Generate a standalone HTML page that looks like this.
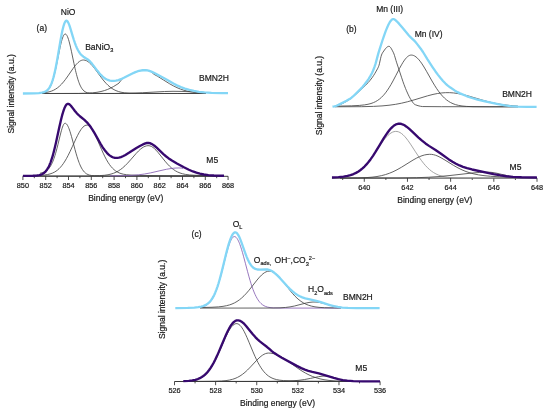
<!DOCTYPE html>
<html><head><meta charset="utf-8"><style>
html,body{margin:0;padding:0;background:#fff;width:550px;height:414px;overflow:hidden}
svg{display:block;filter:blur(0.3px)}
.l{font-family:"Liberation Sans",sans-serif;font-size:8.5px;fill:#1a1a1a;stroke:#1a1a1a;stroke-width:0.2px}
.t{font-family:"Liberation Sans",sans-serif;font-size:7.3px;fill:#1a1a1a;stroke:#1a1a1a;stroke-width:0.2px}
.s{font-size:5.6px}
</style></head><body>
<svg width="550" height="414" viewBox="0 0 550 414">
<rect width="550" height="414" fill="#fff"/>
<line x1="22.90" y1="176.30" x2="228.10" y2="176.30" stroke="#222" stroke-width="0.9"/>
<line x1="22.90" y1="176.30" x2="22.90" y2="180.00" stroke="#222" stroke-width="0.8"/>
<text x="22.90" y="187.60" class="t" text-anchor="middle">850</text>
<line x1="34.30" y1="176.30" x2="34.30" y2="178.20" stroke="#222" stroke-width="0.8"/>
<line x1="45.70" y1="176.30" x2="45.70" y2="180.00" stroke="#222" stroke-width="0.8"/>
<text x="45.70" y="187.60" class="t" text-anchor="middle">852</text>
<line x1="57.10" y1="176.30" x2="57.10" y2="178.20" stroke="#222" stroke-width="0.8"/>
<line x1="68.50" y1="176.30" x2="68.50" y2="180.00" stroke="#222" stroke-width="0.8"/>
<text x="68.50" y="187.60" class="t" text-anchor="middle">854</text>
<line x1="79.90" y1="176.30" x2="79.90" y2="178.20" stroke="#222" stroke-width="0.8"/>
<line x1="91.30" y1="176.30" x2="91.30" y2="180.00" stroke="#222" stroke-width="0.8"/>
<text x="91.30" y="187.60" class="t" text-anchor="middle">856</text>
<line x1="102.70" y1="176.30" x2="102.70" y2="178.20" stroke="#222" stroke-width="0.8"/>
<line x1="114.10" y1="176.30" x2="114.10" y2="180.00" stroke="#222" stroke-width="0.8"/>
<text x="114.10" y="187.60" class="t" text-anchor="middle">858</text>
<line x1="125.50" y1="176.30" x2="125.50" y2="178.20" stroke="#222" stroke-width="0.8"/>
<line x1="136.90" y1="176.30" x2="136.90" y2="180.00" stroke="#222" stroke-width="0.8"/>
<text x="136.90" y="187.60" class="t" text-anchor="middle">860</text>
<line x1="148.30" y1="176.30" x2="148.30" y2="178.20" stroke="#222" stroke-width="0.8"/>
<line x1="159.70" y1="176.30" x2="159.70" y2="180.00" stroke="#222" stroke-width="0.8"/>
<text x="159.70" y="187.60" class="t" text-anchor="middle">862</text>
<line x1="171.10" y1="176.30" x2="171.10" y2="178.20" stroke="#222" stroke-width="0.8"/>
<line x1="182.50" y1="176.30" x2="182.50" y2="180.00" stroke="#222" stroke-width="0.8"/>
<text x="182.50" y="187.60" class="t" text-anchor="middle">864</text>
<line x1="193.90" y1="176.30" x2="193.90" y2="178.20" stroke="#222" stroke-width="0.8"/>
<line x1="205.30" y1="176.30" x2="205.30" y2="180.00" stroke="#222" stroke-width="0.8"/>
<text x="205.30" y="187.60" class="t" text-anchor="middle">866</text>
<line x1="216.70" y1="176.30" x2="216.70" y2="178.20" stroke="#222" stroke-width="0.8"/>
<line x1="228.10" y1="176.30" x2="228.10" y2="180.00" stroke="#222" stroke-width="0.8"/>
<text x="228.10" y="187.60" class="t" text-anchor="middle">868</text>
<line x1="331.90" y1="178.10" x2="536.90" y2="178.10" stroke="#222" stroke-width="0.9"/>
<line x1="342.69" y1="178.10" x2="342.69" y2="180.00" stroke="#222" stroke-width="0.8"/>
<line x1="364.28" y1="178.10" x2="364.28" y2="181.80" stroke="#222" stroke-width="0.8"/>
<text x="364.28" y="189.50" class="t" text-anchor="middle">640</text>
<line x1="385.88" y1="178.10" x2="385.88" y2="180.00" stroke="#222" stroke-width="0.8"/>
<line x1="407.46" y1="178.10" x2="407.46" y2="181.80" stroke="#222" stroke-width="0.8"/>
<text x="407.46" y="189.50" class="t" text-anchor="middle">642</text>
<line x1="429.05" y1="178.10" x2="429.05" y2="180.00" stroke="#222" stroke-width="0.8"/>
<line x1="450.64" y1="178.10" x2="450.64" y2="181.80" stroke="#222" stroke-width="0.8"/>
<text x="450.64" y="189.50" class="t" text-anchor="middle">644</text>
<line x1="472.24" y1="178.10" x2="472.24" y2="180.00" stroke="#222" stroke-width="0.8"/>
<line x1="493.82" y1="178.10" x2="493.82" y2="181.80" stroke="#222" stroke-width="0.8"/>
<text x="493.82" y="189.50" class="t" text-anchor="middle">646</text>
<line x1="515.41" y1="178.10" x2="515.41" y2="180.00" stroke="#222" stroke-width="0.8"/>
<line x1="537.00" y1="178.10" x2="537.00" y2="181.80" stroke="#222" stroke-width="0.8"/>
<text x="537.00" y="189.50" class="t" text-anchor="middle">648</text>
<line x1="174.50" y1="381.50" x2="380.10" y2="381.50" stroke="#222" stroke-width="0.9"/>
<line x1="174.50" y1="381.50" x2="174.50" y2="385.20" stroke="#222" stroke-width="0.8"/>
<text x="174.50" y="392.70" class="t" text-anchor="middle">526</text>
<line x1="195.06" y1="381.50" x2="195.06" y2="383.40" stroke="#222" stroke-width="0.8"/>
<line x1="215.62" y1="381.50" x2="215.62" y2="385.20" stroke="#222" stroke-width="0.8"/>
<text x="215.62" y="392.70" class="t" text-anchor="middle">528</text>
<line x1="236.18" y1="381.50" x2="236.18" y2="383.40" stroke="#222" stroke-width="0.8"/>
<line x1="256.74" y1="381.50" x2="256.74" y2="385.20" stroke="#222" stroke-width="0.8"/>
<text x="256.74" y="392.70" class="t" text-anchor="middle">530</text>
<line x1="277.30" y1="381.50" x2="277.30" y2="383.40" stroke="#222" stroke-width="0.8"/>
<line x1="297.86" y1="381.50" x2="297.86" y2="385.20" stroke="#222" stroke-width="0.8"/>
<text x="297.86" y="392.70" class="t" text-anchor="middle">532</text>
<line x1="318.42" y1="381.50" x2="318.42" y2="383.40" stroke="#222" stroke-width="0.8"/>
<line x1="338.98" y1="381.50" x2="338.98" y2="385.20" stroke="#222" stroke-width="0.8"/>
<text x="338.98" y="392.70" class="t" text-anchor="middle">534</text>
<line x1="359.54" y1="381.50" x2="359.54" y2="383.40" stroke="#222" stroke-width="0.8"/>
<line x1="380.10" y1="381.50" x2="380.10" y2="385.20" stroke="#222" stroke-width="0.8"/>
<text x="380.10" y="392.70" class="t" text-anchor="middle">536</text>
<path d="M42.00 93.18 L43.50 92.89 L45.00 92.37 L46.00 91.84 L47.00 91.12 L48.00 90.14 L48.50 89.54 L49.00 88.86 L49.50 88.08 L50.00 87.20 L50.50 86.21 L51.00 85.11 L51.50 83.90 L52.00 82.56 L52.50 81.09 L53.00 79.49 L53.50 77.77 L54.00 75.92 L54.50 73.94 L55.00 71.85 L55.50 69.66 L56.00 67.36 L57.00 62.55 L59.00 52.55 L60.00 47.75 L60.50 45.49 L61.00 43.37 L61.50 41.40 L62.00 39.63 L62.50 38.06 L63.00 36.72 L63.50 35.63 L64.00 34.81 L64.50 34.26 L65.00 34.00 L65.50 34.02 L66.00 34.31 L66.50 34.86 L67.00 35.66 L67.50 36.71 L68.00 37.99 L68.50 39.48 L69.00 41.16 L69.50 43.02 L70.00 45.03 L70.50 47.16 L71.50 51.72 L74.00 63.67 L75.00 68.24 L75.50 70.40 L76.00 72.48 L76.50 74.45 L77.00 76.32 L77.50 78.07 L78.00 79.71 L78.50 81.23 L79.00 82.62 L79.50 83.91 L80.00 85.08 L80.50 86.13 L81.00 87.09 L81.50 87.95 L82.00 88.71 L83.00 89.98 L84.00 90.96 L85.00 91.70 L86.00 92.25 L87.50 92.80 L89.50 93.19 L92.50 93.42 L103.50 93.50 L206.00 93.50" fill="none" stroke="#3c3c3c" stroke-width="0.80" stroke-linejoin="round" stroke-linecap="butt"/>
<path d="M42.00 92.96 L46.00 92.50 L49.00 91.88 L51.50 91.10 L53.50 90.26 L55.50 89.17 L57.50 87.82 L59.50 86.16 L61.50 84.18 L63.50 81.91 L65.50 79.35 L68.00 75.86 L73.00 68.57 L75.00 65.90 L76.50 64.12 L78.00 62.60 L79.50 61.39 L80.50 60.78 L81.50 60.34 L82.50 60.08 L83.50 60.00 L85.00 60.19 L86.50 60.73 L88.00 61.60 L89.50 62.77 L91.00 64.21 L92.50 65.87 L94.50 68.35 L98.00 73.11 L101.50 77.87 L104.00 81.02 L106.00 83.28 L108.00 85.29 L110.00 87.02 L112.00 88.48 L114.00 89.68 L116.00 90.64 L118.50 91.56 L121.00 92.21 L124.50 92.80 L129.00 93.20 L136.00 93.41 L177.50 93.49 L206.00 93.49" fill="none" stroke="#3c3c3c" stroke-width="0.80" stroke-linejoin="round" stroke-linecap="butt"/>
<path d="M42.00 93.50 L78.50 93.43 L87.00 93.21 L92.50 92.84 L97.00 92.29 L101.00 91.51 L104.50 90.55 L107.50 89.47 L110.50 88.15 L113.50 86.56 L117.00 84.41 L119.00 83.07 L120.50 81.01 L122.00 79.27 L123.00 78.26 L128.00 75.71 L133.00 73.17 L136.00 71.89 L138.50 71.06 L141.00 70.49 L143.50 70.20 L145.50 70.18 L147.50 70.42 L149.50 70.93 L150.00 71.10 L152.50 73.05 L154.00 74.34 L157.50 76.26 L163.50 79.99 L169.50 83.72 L173.50 85.95 L177.00 87.66 L180.50 89.10 L184.00 90.27 L188.00 91.31 L192.50 92.14 L197.50 92.74 L204.00 93.17 L206.00 93.25" fill="none" stroke="#3c3c3c" stroke-width="0.80" stroke-linejoin="round" stroke-linecap="butt"/>
<path d="M42.00 93.50 L114.50 93.44 L130.00 93.20 L142.50 92.72 L164.50 91.51 L173.00 91.30 L182.00 91.41 L193.50 91.92 L206.00 92.61" fill="none" stroke="#3c3c3c" stroke-width="0.80" stroke-linejoin="round" stroke-linecap="butt"/>
<path d="M22.90 93.49 L33.90 93.34 L38.90 93.07 L41.90 92.68 L43.90 92.16 L45.40 91.52 L46.40 90.91 L47.40 90.10 L48.40 89.03 L48.90 88.39 L49.40 87.65 L49.90 86.81 L50.40 85.87 L50.90 84.82 L51.40 83.64 L51.90 82.33 L52.40 80.89 L52.90 79.30 L53.40 77.57 L53.90 75.68 L54.40 73.65 L54.90 71.47 L55.40 69.14 L55.90 66.68 L56.40 64.09 L56.90 61.39 L57.90 55.72 L59.90 43.90 L60.40 41.01 L60.90 38.20 L61.40 35.51 L61.90 32.96 L62.40 30.59 L62.90 28.43 L63.40 26.49 L63.90 24.81 L64.40 23.40 L64.90 22.27 L65.40 21.44 L65.90 20.92 L66.40 20.72 L66.90 20.84 L67.40 21.27 L67.90 21.97 L68.40 22.92 L68.90 24.09 L69.40 25.42 L69.90 26.89 L70.90 30.11 L72.90 36.83 L73.90 40.02 L74.90 42.97 L75.90 45.62 L76.90 47.97 L77.90 50.00 L78.90 51.73 L79.90 53.20 L80.90 54.43 L81.90 55.46 L83.40 56.72 L85.40 58.05 L87.40 59.24 L88.90 60.40 L90.40 61.88 L91.90 63.62 L94.40 66.88 L97.40 70.85 L99.40 73.29 L100.90 74.93 L102.40 76.39 L103.90 77.65 L105.40 78.69 L106.90 79.54 L108.40 80.18 L109.90 80.63 L111.90 80.95 L113.90 80.97 L115.90 80.72 L118.40 80.10 L120.90 79.19 L124.40 77.58 L132.40 73.45 L135.40 72.12 L137.90 71.23 L140.40 70.60 L142.90 70.24 L145.40 70.18 L147.40 70.40 L149.40 70.90 L151.90 71.83 L154.90 73.26 L166.90 79.75 L173.40 83.57 L176.90 85.37 L180.90 87.11 L184.90 88.56 L189.40 89.89 L193.90 90.93 L198.90 91.78 L204.40 92.40 L211.40 92.85 L221.90 93.11 L228.00 93.17" fill="none" stroke="#83d6f6" stroke-width="2.30" stroke-linejoin="round" stroke-linecap="butt"/>
<path d="M40.00 173.27 L42.50 172.61 L44.50 171.83 L46.00 170.99 L47.00 170.26 L48.00 169.37 L49.00 168.26 L50.00 166.92 L51.00 165.29 L51.50 164.36 L52.00 163.35 L52.50 162.25 L53.00 161.05 L53.50 159.77 L54.00 158.39 L54.50 156.92 L55.00 155.36 L55.50 153.71 L56.00 151.97 L57.00 148.26 L58.00 144.29 L60.00 136.04 L61.00 132.10 L61.50 130.28 L62.00 128.59 L62.50 127.08 L63.00 125.77 L63.50 124.71 L64.00 123.92 L64.50 123.42 L65.00 123.23 L65.50 123.30 L66.00 123.55 L66.50 123.99 L67.00 124.60 L67.50 125.39 L68.00 126.33 L68.50 127.43 L69.00 128.67 L69.50 130.04 L70.00 131.52 L70.50 133.11 L71.50 136.53 L73.00 142.06 L75.00 149.57 L76.00 153.16 L77.00 156.53 L78.00 159.63 L79.00 162.43 L79.50 163.70 L80.00 164.90 L80.50 166.01 L81.50 167.99 L82.50 169.66 L83.50 171.05 L84.50 172.18 L85.50 173.09 L86.50 173.81 L88.00 174.59 L89.50 175.10 L91.50 175.51 L94.50 175.78 L101.50 175.90 L224.00 175.90" fill="none" stroke="#3c3c3c" stroke-width="0.80" stroke-linejoin="round" stroke-linecap="butt"/>
<path d="M40.00 175.36 L44.50 175.00 L47.50 174.55 L50.00 173.95 L52.50 173.07 L54.50 172.10 L56.00 171.18 L57.50 170.07 L59.00 168.74 L60.50 167.19 L62.00 165.39 L63.50 163.34 L65.00 161.03 L66.50 158.46 L68.00 155.67 L70.00 151.64 L72.50 146.28 L76.00 138.67 L77.50 135.60 L79.00 132.77 L80.00 131.07 L81.00 129.53 L82.00 128.19 L83.00 127.07 L84.00 126.19 L85.00 125.56 L86.00 125.20 L87.00 125.11 L87.50 125.17 L88.50 125.55 L89.50 126.23 L90.50 127.22 L91.50 128.48 L92.50 129.99 L93.50 131.71 L94.50 133.63 L96.00 136.77 L98.00 141.30 L101.50 149.43 L103.50 153.85 L105.00 156.92 L106.50 159.75 L108.00 162.30 L109.50 164.56 L111.00 166.53 L112.50 168.22 L114.00 169.65 L115.50 170.83 L117.00 171.81 L119.00 172.83 L121.00 173.58 L123.50 174.23 L126.50 174.73 L131.00 175.12 L139.50 175.42 L165.00 175.68 L224.00 175.83" fill="none" stroke="#3c3c3c" stroke-width="0.80" stroke-linejoin="round" stroke-linecap="butt"/>
<path d="M40.00 175.90 L92.00 175.85 L99.50 175.65 L104.50 175.27 L108.00 174.76 L111.00 174.07 L113.50 173.27 L116.00 172.21 L118.50 170.85 L120.50 169.53 L122.50 168.00 L125.00 165.78 L127.50 163.26 L130.50 159.93 L136.00 153.61 L138.50 150.98 L140.50 149.15 L142.00 147.99 L143.50 147.03 L145.00 146.32 L146.50 145.86 L148.00 145.67 L149.00 145.71 L150.00 145.91 L151.50 146.51 L153.00 147.44 L154.50 148.67 L156.00 150.15 L158.00 152.40 L161.00 156.13 L165.00 161.16 L167.50 164.06 L169.50 166.13 L171.50 167.96 L173.50 169.54 L175.50 170.86 L177.50 171.94 L180.00 172.99 L182.50 173.76 L185.50 174.41 L189.50 174.93 L195.00 175.29 L206.00 175.54 L224.00 175.69" fill="none" stroke="#3c3c3c" stroke-width="0.80" stroke-linejoin="round" stroke-linecap="butt"/>
<path d="M110.00 175.88 L124.00 175.70 L132.00 175.35 L138.50 174.80 L144.50 174.00 L150.50 172.90 L160.00 170.71 L166.50 169.27 L171.00 168.50 L175.00 168.08 L179.00 167.95 L181.50 168.14 L183.00 168.38" fill="none" stroke="#7d56ad" stroke-width="0.80" stroke-linejoin="round" stroke-linecap="butt"/>
<path d="M22.90 175.85 L32.90 175.73 L36.90 175.47 L39.40 175.06 L40.90 174.63 L42.40 173.99 L43.90 173.05 L44.90 172.20 L45.90 171.14 L46.90 169.83 L47.90 168.24 L48.40 167.32 L48.90 166.33 L49.40 165.24 L49.90 164.07 L50.40 162.81 L50.90 161.45 L51.40 159.99 L51.90 158.44 L52.40 156.80 L52.90 155.07 L53.40 153.24 L53.90 151.33 L54.90 147.27 L55.90 142.94 L57.40 136.11 L59.40 126.85 L60.40 122.41 L60.90 120.28 L61.40 118.23 L61.90 116.28 L62.40 114.43 L62.90 112.71 L63.40 111.11 L63.90 109.65 L64.40 108.33 L64.90 107.16 L65.40 106.15 L65.90 105.32 L66.40 104.68 L66.90 104.23 L67.40 103.96 L67.90 103.85 L68.40 103.89 L68.90 104.07 L69.40 104.36 L69.90 104.76 L70.90 105.78 L72.40 107.66 L74.90 110.99 L76.40 112.82 L77.90 114.43 L79.90 116.25 L84.40 119.91 L86.40 121.78 L87.90 123.39 L89.40 125.22 L90.90 127.28 L92.40 129.56 L94.40 132.88 L100.40 143.49 L102.40 146.78 L103.90 149.04 L105.40 151.08 L106.90 152.86 L108.40 154.38 L109.90 155.62 L111.40 156.58 L112.90 157.27 L114.40 157.71 L115.90 157.90 L117.40 157.88 L118.90 157.65 L120.90 157.09 L122.90 156.28 L125.40 154.99 L128.90 152.86 L136.40 147.99 L139.90 145.94 L142.90 144.43 L145.40 143.39 L146.90 142.99 L148.40 142.93 L149.90 143.21 L151.40 143.80 L152.90 144.66 L154.40 145.74 L156.40 147.43 L163.40 154.10 L165.90 156.26 L168.40 158.17 L171.90 160.50 L176.90 163.47 L183.90 167.28 L188.90 169.76 L192.90 171.47 L196.40 172.71 L199.90 173.69 L203.90 174.51 L208.40 175.11 L213.90 175.52 L222.40 175.76 L224.00 175.78" fill="none" stroke="#37096f" stroke-width="2.35" stroke-linejoin="round" stroke-linecap="butt"/>
<path d="M335.00 106.44 L336.50 106.20 L338.00 105.69 L343.50 103.03 L347.00 101.06 L350.50 98.80 L352.50 97.28 L356.00 94.23 L359.50 91.00 L365.50 85.24 L368.00 82.75 L370.00 80.44 L372.00 77.83 L373.50 75.66 L375.00 73.23 L377.50 68.80 L378.00 67.80 L378.50 66.67 L379.00 65.31 L379.50 63.40 L380.50 58.77 L381.00 56.64 L381.50 55.00 L382.00 53.82 L382.50 52.87 L384.50 49.97 L385.50 48.67 L386.50 47.57 L387.00 47.12 L387.50 46.76 L388.00 46.50 L388.50 46.34 L389.00 46.31 L389.50 46.47 L390.00 46.85 L390.50 47.42 L391.00 48.13 L391.50 48.95 L392.50 50.83 L393.50 52.81 L394.00 54.05 L394.50 55.52 L395.00 57.14 L396.00 60.54 L396.50 62.18 L401.50 77.25 L403.00 81.74 L404.00 84.51 L405.50 88.40 L406.50 90.81 L408.00 94.15 L409.00 96.24 L410.00 98.14 L411.00 99.76 L412.50 102.05 L413.50 103.37 L414.00 103.90 L414.50 104.32 L415.50 104.81 L418.00 105.69 L420.50 106.29 L422.50 106.55 L441.50 106.69 L518.00 106.80" fill="none" stroke="#3c3c3c" stroke-width="0.80" stroke-linejoin="round" stroke-linecap="butt"/>
<path d="M335.00 106.19 L351.50 105.82 L359.50 105.41 L364.50 104.89 L368.00 104.28 L371.00 103.50 L373.50 102.59 L375.50 101.65 L377.50 100.49 L379.50 99.05 L381.50 97.32 L383.00 95.81 L384.50 94.11 L386.00 92.21 L387.50 90.12 L389.00 87.84 L391.00 84.52 L393.00 80.94 L396.00 75.23 L399.50 68.47 L401.50 64.83 L403.00 62.32 L404.50 60.08 L405.50 58.77 L406.50 57.63 L407.50 56.68 L408.50 55.94 L409.50 55.42 L410.50 55.13 L411.50 55.07 L412.50 55.19 L413.50 55.48 L414.50 55.94 L416.00 56.91 L417.50 58.23 L419.00 59.85 L420.50 61.74 L422.00 63.87 L424.00 67.01 L426.50 71.27 L432.00 80.99 L434.50 85.19 L436.50 88.33 L438.50 91.21 L440.50 93.81 L442.50 96.11 L444.50 98.12 L446.50 99.85 L448.50 101.30 L450.50 102.50 L453.00 103.70 L455.50 104.61 L458.50 105.39 L462.00 105.99 L466.50 106.42 L473.00 106.69 L489.50 106.80 L518.00 106.80" fill="none" stroke="#3c3c3c" stroke-width="0.80" stroke-linejoin="round" stroke-linecap="butt"/>
<path d="M335.00 106.79 L361.50 106.68 L373.50 106.38 L382.00 105.91 L389.00 105.24 L395.50 104.33 L401.50 103.19 L407.50 101.76 L415.00 99.64 L427.50 95.85 L433.00 94.42 L437.50 93.51 L441.50 92.95 L445.50 92.66 L449.50 92.65 L453.50 92.93 L458.00 93.56 L463.00 94.58 L469.00 96.15 L485.00 100.87 L491.50 102.53 L497.50 103.79 L503.50 104.77 L510.00 105.54 L517.50 106.12 L518.00 106.15" fill="none" stroke="#3c3c3c" stroke-width="0.80" stroke-linejoin="round" stroke-linecap="butt"/>
<path d="M332.50 106.72 L334.50 106.38 L336.50 105.76 L338.50 104.87 L346.50 100.84 L349.50 99.09 L351.50 97.71 L353.00 96.45 L360.50 89.14 L362.50 86.98 L364.50 84.55 L367.00 81.24 L368.50 79.11 L370.00 76.72 L371.00 74.91 L372.00 72.92 L373.00 70.73 L374.00 68.29 L374.50 66.95 L375.00 65.49 L375.50 63.89 L376.00 62.15 L377.00 58.39 L378.00 54.63 L378.50 52.87 L379.50 49.62 L382.50 40.25 L384.00 35.80 L385.50 31.66 L386.50 29.09 L387.50 26.70 L388.50 24.55 L389.50 22.71 L390.50 21.18 L391.00 20.53 L391.50 19.99 L392.00 19.55 L392.50 19.25 L393.00 19.10 L393.50 19.09 L394.00 19.21 L394.50 19.44 L395.50 20.15 L397.00 21.53 L399.00 23.66 L402.50 27.77 L408.50 35.07 L410.00 36.71 L412.00 38.59 L414.00 40.39 L415.50 41.98 L417.00 43.85 L421.50 49.79 L423.00 52.01 L427.50 59.36 L432.50 67.03 L435.50 71.45 L438.00 74.87 L440.50 78.05 L443.00 80.95 L445.50 83.58 L447.50 85.40 L450.00 87.32 L455.00 90.66 L457.50 92.14 L460.00 93.37 L467.00 96.30 L472.00 98.02 L477.50 99.61 L485.00 101.40 L498.00 104.23 L505.00 105.39 L510.50 106.04 L517.50 106.60 L527.00 106.83 L536.60 106.90" fill="none" stroke="#83d6f6" stroke-width="2.30" stroke-linejoin="round" stroke-linecap="butt"/>
<path d="M340.00 177.51 L344.00 177.02 L347.50 176.34 L350.50 175.49 L353.00 174.54 L355.50 173.34 L358.00 171.84 L360.00 170.41 L362.00 168.76 L364.00 166.87 L366.00 164.75 L368.00 162.41 L370.50 159.20 L373.50 155.00 L380.50 144.65 L383.00 141.16 L385.00 138.61 L386.50 136.89 L388.00 135.36 L389.50 134.05 L391.00 132.98 L392.50 132.17 L394.00 131.65 L395.50 131.41 L397.00 131.47 L398.50 131.84 L400.00 132.52 L401.50 133.50 L403.00 134.75 L404.50 136.25 L406.00 137.97 L408.00 140.56 L410.50 144.14 L415.50 151.84 L419.00 157.12 L421.50 160.64 L423.50 163.22 L425.50 165.58 L427.50 167.68 L429.50 169.54 L431.50 171.15 L433.50 172.53 L436.00 173.94 L438.50 175.06 L441.00 175.91 L444.00 176.66 L447.50 177.25 L452.00 177.69 L458.50 177.97 L473.50 178.09 L520.00 178.10" fill="none" stroke="#8e8e8e" stroke-width="0.80" stroke-linejoin="round" stroke-linecap="butt"/>
<path d="M340.00 178.09 L357.50 177.95 L366.00 177.64 L372.00 177.17 L377.00 176.52 L381.50 175.64 L385.50 174.58 L389.50 173.21 L393.00 171.75 L397.00 169.78 L401.50 167.23 L413.00 160.09 L416.50 158.14 L419.50 156.70 L422.00 155.72 L424.50 154.98 L427.00 154.50 L429.50 154.30 L431.50 154.37 L433.50 154.68 L435.50 155.23 L438.00 156.21 L441.00 157.72 L445.00 160.08 L453.50 165.38 L458.00 167.91 L462.00 169.86 L466.00 171.52 L470.00 172.86 L474.00 173.94 L478.50 174.85 L484.00 175.65 L490.50 176.27 L499.50 176.77 L514.50 177.20 L520.00 177.30" fill="none" stroke="#3c3c3c" stroke-width="0.80" stroke-linejoin="round" stroke-linecap="butt"/>
<path d="M340.00 178.06 L399.00 177.95 L416.50 177.69 L428.50 177.24 L439.00 176.55 L450.00 175.51 L471.50 173.08 L479.50 172.44 L486.00 172.20 L490.00 172.24 L493.00 172.55 L497.00 173.29 L507.50 175.75 L512.50 176.66 L517.50 177.28 L520.00 177.49" fill="none" stroke="#3c3c3c" stroke-width="0.80" stroke-linejoin="round" stroke-linecap="butt"/>
<path d="M332.00 177.52 L338.50 177.15 L343.50 176.60 L347.50 175.88 L350.50 175.09 L353.50 174.02 L356.00 172.87 L358.50 171.42 L360.50 170.03 L362.50 168.41 L364.50 166.54 L366.50 164.42 L368.50 162.06 L370.50 159.44 L373.00 155.86 L375.50 151.98 L379.50 145.38 L383.50 138.73 L386.00 134.83 L388.00 131.97 L389.50 130.03 L391.00 128.31 L392.50 126.83 L394.00 125.61 L395.50 124.68 L397.00 124.04 L398.50 123.71 L400.00 123.70 L401.50 123.99 L403.00 124.54 L404.50 125.33 L406.50 126.68 L409.00 128.71 L412.50 131.92 L418.50 137.57 L422.00 140.64 L425.50 143.42 L429.00 145.87 L435.50 149.99 L441.00 153.81 L448.50 159.14 L452.50 161.74 L456.00 163.74 L459.50 165.45 L463.00 166.86 L467.00 168.17 L472.00 169.48 L493.50 174.18 L500.50 175.46 L506.50 176.27 L513.00 176.86 L521.50 177.28 L536.00 177.54 L537.00 177.55" fill="none" stroke="#37096f" stroke-width="2.35" stroke-linejoin="round" stroke-linecap="butt"/>
<path d="M200.00 307.30 L202.50 306.81 L204.50 306.17 L206.00 305.47 L207.50 304.52 L209.00 303.25 L210.00 302.20 L211.00 300.96 L212.00 299.51 L213.00 297.83 L214.00 295.90 L215.00 293.71 L216.00 291.26 L217.00 288.53 L218.00 285.54 L219.00 282.30 L220.00 278.82 L221.00 275.14 L222.50 269.35 L225.50 257.42 L226.50 253.61 L227.50 249.99 L228.00 248.29 L228.50 246.66 L229.00 245.13 L229.50 243.70 L230.00 242.37 L230.50 241.17 L231.00 240.09 L231.50 239.14 L232.00 238.34 L232.50 237.67 L233.00 237.16 L233.50 236.80 L234.00 236.60 L234.50 236.56 L235.00 236.66 L235.50 236.89 L236.00 237.27 L236.50 237.78 L237.00 238.42 L237.50 239.19 L238.00 240.08 L238.50 241.09 L239.00 242.21 L239.50 243.44 L240.00 244.77 L240.50 246.19 L241.50 249.28 L242.50 252.65 L243.50 256.23 L245.50 263.76 L247.50 271.35 L249.00 276.82 L250.00 280.27 L251.00 283.54 L252.00 286.59 L253.00 289.41 L254.00 291.98 L255.00 294.31 L256.00 296.39 L257.00 298.23 L258.00 299.85 L259.00 301.26 L260.00 302.47 L261.00 303.50 L262.50 304.75 L264.00 305.71 L265.50 306.42 L267.50 307.08 L270.00 307.57 L273.50 307.91 L280.00 308.08 L341.00 308.10" fill="none" stroke="#7d56ad" stroke-width="0.80" stroke-linejoin="round" stroke-linecap="butt"/>
<path d="M200.00 307.56 L212.00 307.26 L218.50 306.86 L223.00 306.35 L226.50 305.70 L229.50 304.91 L232.00 304.02 L234.50 302.90 L237.00 301.48 L239.50 299.76 L241.50 298.14 L244.00 295.81 L246.50 293.17 L249.00 290.25 L253.00 285.20 L257.00 280.09 L259.50 277.16 L261.50 275.09 L263.00 273.77 L264.50 272.68 L266.00 271.86 L267.50 271.34 L269.00 271.13 L270.50 271.23 L272.00 271.62 L273.50 272.29 L275.00 273.22 L276.50 274.38 L278.00 275.76 L280.00 277.87 L282.50 280.84 L290.00 290.45 L292.50 293.44 L295.00 296.16 L297.00 298.11 L299.00 299.85 L301.00 301.36 L303.50 302.95 L306.00 304.23 L308.50 305.23 L311.50 306.13 L315.00 306.85 L319.00 307.35 L324.50 307.71 L334.50 307.92 L341.00 307.97" fill="none" stroke="#3c3c3c" stroke-width="0.80" stroke-linejoin="round" stroke-linecap="butt"/>
<path d="M200.00 308.10 L272.00 308.05 L280.00 307.85 L285.50 307.46 L290.00 306.88 L294.50 306.00 L301.00 304.32 L306.50 302.92 L310.00 302.30 L313.00 302.03 L316.00 302.07 L319.00 302.41 L322.50 303.14 L333.00 305.96 L337.50 306.88 L341.00 307.37" fill="none" stroke="#3c3c3c" stroke-width="0.80" stroke-linejoin="round" stroke-linecap="butt"/>
<path d="M175.30 308.06 L187.80 307.86 L194.30 307.54 L198.30 307.13 L201.30 306.58 L203.30 306.01 L205.30 305.18 L206.80 304.32 L208.30 303.20 L209.30 302.28 L210.30 301.18 L211.30 299.89 L212.30 298.39 L213.30 296.66 L214.30 294.68 L215.30 292.44 L216.30 289.92 L217.30 287.12 L218.30 284.04 L219.30 280.71 L220.30 277.13 L221.30 273.34 L222.80 267.37 L225.80 255.07 L226.80 251.13 L227.80 247.38 L228.80 243.92 L229.30 242.32 L229.80 240.81 L230.30 239.40 L230.80 238.11 L231.30 236.93 L231.80 235.88 L232.30 234.95 L232.80 234.16 L233.30 233.50 L233.80 232.97 L234.30 232.59 L234.80 232.38 L235.30 232.32 L235.80 232.42 L236.30 232.68 L236.80 233.08 L237.30 233.63 L237.80 234.31 L238.30 235.11 L238.80 236.02 L239.30 237.04 L239.80 238.15 L240.80 240.61 L241.80 243.30 L244.80 251.82 L245.80 254.54 L246.80 257.10 L247.80 259.43 L248.80 261.53 L249.80 263.35 L250.80 264.91 L251.80 266.20 L252.80 267.24 L253.80 268.05 L254.80 268.66 L256.30 269.24 L257.80 269.52 L259.80 269.60 L265.30 269.36 L267.30 269.48 L268.80 269.79 L270.30 270.32 L271.80 271.06 L273.30 272.00 L275.30 273.54 L277.30 275.35 L279.80 277.91 L287.30 286.25 L289.80 288.84 L292.30 291.18 L294.80 293.21 L297.30 294.91 L299.80 296.28 L302.30 297.37 L305.30 298.37 L309.80 299.47 L316.30 300.92 L320.80 302.21 L329.80 305.12 L333.80 306.18 L337.80 306.97 L342.30 307.55 L347.80 307.90 L356.80 308.07 L379.60 308.10" fill="none" stroke="#83d6f6" stroke-width="2.30" stroke-linejoin="round" stroke-linecap="butt"/>
<path d="M195.00 380.15 L197.50 379.46 L199.50 378.68 L201.50 377.66 L203.00 376.70 L204.50 375.56 L206.00 374.21 L207.50 372.63 L209.00 370.81 L210.50 368.73 L212.00 366.40 L213.50 363.82 L215.00 360.99 L216.50 357.94 L218.50 353.59 L221.50 346.67 L224.50 339.74 L226.00 336.44 L227.50 333.37 L229.00 330.60 L230.00 328.96 L231.00 327.50 L232.00 326.26 L233.00 325.24 L234.00 324.45 L235.00 323.92 L236.00 323.64 L237.00 323.63 L238.00 323.90 L239.00 324.48 L240.00 325.33 L241.00 326.45 L242.00 327.83 L243.00 329.42 L244.00 331.22 L245.50 334.23 L247.00 337.54 L249.00 342.23 L253.00 351.84 L255.00 356.40 L256.50 359.60 L258.00 362.57 L259.50 365.29 L261.00 367.73 L262.50 369.90 L264.00 371.80 L265.50 373.45 L267.00 374.85 L268.50 376.04 L270.00 377.02 L272.00 378.07 L274.00 378.87 L276.50 379.59 L279.50 380.15 L283.50 380.59 L290.00 380.91 L306.50 381.17 L350.00 381.37" fill="none" stroke="#3c3c3c" stroke-width="0.80" stroke-linejoin="round" stroke-linecap="butt"/>
<path d="M195.00 381.41 L214.50 381.27 L221.50 381.01 L226.00 380.60 L229.50 380.04 L232.50 379.31 L235.00 378.47 L237.50 377.38 L240.00 376.00 L242.50 374.31 L245.00 372.30 L247.50 370.01 L250.50 366.95 L256.50 360.48 L259.00 358.01 L261.00 356.28 L262.50 355.18 L264.00 354.29 L265.50 353.62 L267.00 353.21 L268.50 353.05 L271.00 353.20 L273.50 353.66 L276.00 354.42 L278.50 355.45 L281.50 357.00 L285.00 359.15 L289.50 362.28 L298.00 368.41 L302.00 371.05 L305.50 373.12 L309.00 374.93 L312.50 376.46 L316.00 377.71 L320.00 378.85 L324.00 379.69 L329.00 380.42 L335.00 380.96 L343.00 381.30 L350.00 381.43" fill="none" stroke="#3c3c3c" stroke-width="0.80" stroke-linejoin="round" stroke-linecap="butt"/>
<path d="M195.00 381.46 L268.50 381.33 L285.00 381.13 L293.00 380.80 L299.00 380.30 L304.50 379.54 L310.50 378.39 L318.50 376.71 L322.00 376.20 L325.00 376.01 L327.00 376.07 L329.50 376.44 L332.50 377.21 L339.50 379.34 L343.00 380.16 L346.50 380.71 L350.00 381.05" fill="none" stroke="#3c3c3c" stroke-width="0.80" stroke-linejoin="round" stroke-linecap="butt"/>
<path d="M183.30 381.12 L188.80 380.81 L192.30 380.39 L195.30 379.78 L197.80 379.01 L199.80 378.16 L201.80 377.05 L203.30 376.02 L204.80 374.80 L206.30 373.36 L207.80 371.69 L209.30 369.77 L210.80 367.59 L212.30 365.15 L213.80 362.46 L215.30 359.52 L216.80 356.36 L218.80 351.87 L221.80 344.75 L224.80 337.62 L226.30 334.23 L227.80 331.07 L229.30 328.20 L230.30 326.48 L231.30 324.95 L232.30 323.62 L233.30 322.50 L234.30 321.61 L235.30 320.95 L236.30 320.52 L237.30 320.32 L238.30 320.33 L239.30 320.53 L240.30 320.91 L241.30 321.46 L242.80 322.58 L244.30 323.98 L246.30 326.19 L249.30 329.89 L252.80 334.24 L255.30 337.08 L257.30 339.10 L259.80 341.33 L263.30 344.07 L266.80 346.79 L269.30 348.98 L271.80 351.17 L274.30 353.07 L277.30 355.07 L281.80 357.71 L296.80 365.88 L301.30 368.11 L304.80 369.59 L308.30 370.79 L312.30 371.82 L318.80 373.30 L323.80 374.78 L333.80 377.98 L338.30 379.17 L342.80 380.05 L347.30 380.63 L353.30 381.06 L362.80 381.32 L380.00 381.43" fill="none" stroke="#37096f" stroke-width="2.35" stroke-linejoin="round" stroke-linecap="butt"/>

<text x="60.8" y="15.1" class="l">NiO</text>
<text x="36.6" y="31.0" class="l">(a)</text>
<text x="85.2" y="50.1" class="l">BaNiO<tspan class="s" dy="2.2">3</tspan></text>
<text x="199.1" y="81.0" class="l">BMN2H</text>
<text x="206.3" y="163.0" class="l">M5</text>
<text x="88.2" y="200.5" class="l">Binding energy (eV)</text>
<text transform="translate(13.8 133.5) rotate(-90)" class="l">Signal intensity (a.u.)</text>

<text x="376.2" y="12.1" class="l">Mn (III)</text>
<text x="346.2" y="32.0" class="l">(b)</text>
<text x="414.7" y="36.6" class="l">Mn (IV)</text>
<text x="502.2" y="97.1" class="l">BMN2H</text>
<text x="509.6" y="170.0" class="l">M5</text>
<text x="397.3" y="202.7" class="l">Binding energy (eV)</text>
<text transform="translate(322.4 135.2) rotate(-90)" class="l">Signal intensity (a.u.)</text>

<text x="232.7" y="226.9" class="l">O<tspan class="s" dy="1.6">L</tspan></text>
<text x="191.6" y="237.0" class="l">(c)</text>
<text x="253.8" y="263.4" class="l">O<tspan class="s" dy="1.9">ads,</tspan><tspan dy="-1.9" dx="1.2"> OH</tspan><tspan class="s" dy="-3.6">&#8722;</tspan><tspan dy="3.6">,CO</tspan><tspan class="s" dy="2.2">3</tspan><tspan class="s" dy="-6.0">2&#8722;</tspan></text>
<text x="308.0" y="292.4" class="l">H<tspan class="s" dy="2.2">2</tspan><tspan dy="-2.2">O</tspan><tspan class="s" dy="2.2">ads</tspan></text>
<text x="343.0" y="300.1" class="l">BMN2H</text>
<text x="355.3" y="371.4" class="l">M5</text>
<text x="240.0" y="405.5" class="l">Binding energy (eV)</text>
<text transform="translate(165.3 339.1) rotate(-90)" class="l">Signal intensity (a.u.)</text>

</svg>
</body></html>
